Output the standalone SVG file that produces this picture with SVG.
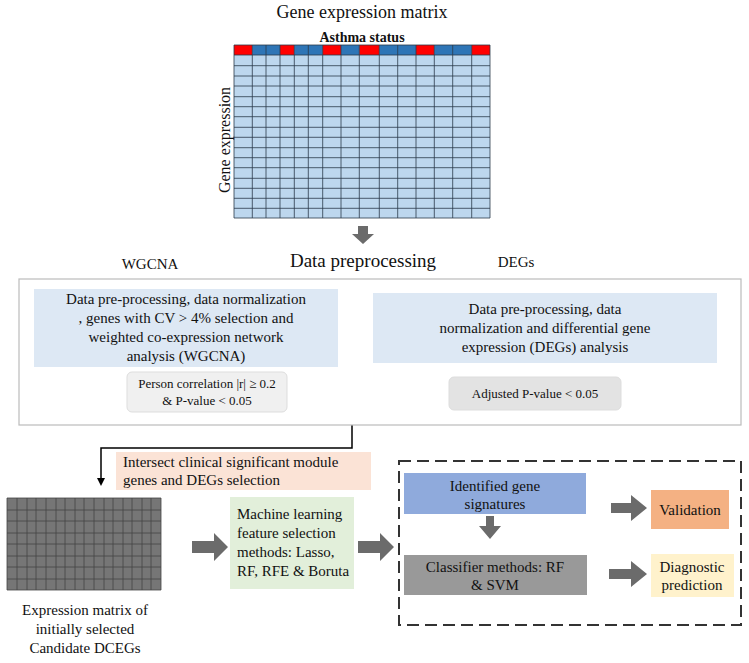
<svg xmlns="http://www.w3.org/2000/svg" width="749" height="663" viewBox="0 0 749 663" font-family="'Liberation Serif', 'Times New Roman', Tinos, 'DejaVu Serif', serif">
<defs>
<style>
text{font-family:'Liberation Serif','Times New Roman',Tinos,serif;fill:#111}
.t{font-size:15px}
.g{stroke:#2b3a4a;stroke-width:0.8;fill:none}
.ar{fill:#6b6b6b}
</style>
</defs>
<rect width="749" height="663" fill="#fff"/>
<g id="matrix">
<text x="362" y="18" text-anchor="middle" font-size="18">Gene expression matrix</text>
<text x="362" y="42" text-anchor="middle" font-size="14" font-weight="bold" fill="#333">Asthma status</text>
<rect x="234" y="55" width="256" height="163" fill="#bdd7ee"/>
<g>
<rect x="234" y="45" width="18.3" height="10" fill="#f00"/>
<rect x="252.3" y="45" width="27.7" height="10" fill="#2e75b6"/>
<rect x="280" y="45" width="14.3" height="10" fill="#f00"/>
<rect x="294.3" y="45" width="28.4" height="10" fill="#2e75b6"/>
<rect x="322.7" y="45" width="18.3" height="10" fill="#f00"/>
<rect x="341" y="45" width="18.3" height="10" fill="#2e75b6"/>
<rect x="359.3" y="45" width="20" height="10" fill="#f00"/>
<rect x="379.3" y="45" width="36.7" height="10" fill="#2e75b6"/>
<rect x="416" y="45" width="18.3" height="10" fill="#f00"/>
<rect x="434.3" y="45" width="37.4" height="10" fill="#2e75b6"/>
<rect x="471.7" y="45" width="18.3" height="10" fill="#f00"/>
</g>
<path class="g" d="M234 45H490V218H234Z M234 55H490 M252.3 45V218 M266 45V218 M280 45V218 M294.3 45V218 M308.3 45V218 M322.7 45V218 M341 45V218 M359.3 45V218 M379.3 45V218 M397.7 45V218 M416 45V218 M434.3 45V218 M452.7 45V218 M471.7 45V218 M234 65.7H490 M234 76H490 M234 86H490 M234 96.7H490 M234 106.7H490 M234 116.7H490 M234 127.3H490 M234 137.3H490 M234 147.7H490 M234 157.7H490 M234 167.7H490 M234 178.3H490 M234 188.3H490 M234 198.3H490 M234 208.3H490"/>
<text transform="translate(230,140) rotate(-90)" text-anchor="middle" font-size="16">Gene expression</text>
</g>
<g id="arrows">
<polygon class="ar" points="358,226 368,226 368,234 374,234 363,244 352,234 358,234"/>
<polygon class="ar" points="192,541 214,541 214,533 228,547 214,561 214,553 192,553"/>
<polygon class="ar" points="358,541 380,541 380,533 394,547 380,561 380,553 358,553"/>
<polygon class="ar" points="611,503 631,503 631,495 647,508 631,521 631,513 611,513"/>
<polygon class="ar" points="609,569 631,569 631,561 647,574 631,587 631,579 609,579"/>
<polygon class="ar" points="486,516 494,516 494,526 501,526 490,539 479,526 486,526"/>
<path d="M352 425V448H101V480" fill="none" stroke="#000" stroke-width="1.5"/>
<polygon points="97,478 105,478 101,486" fill="#000"/>
</g>
<g id="preproc">
<text x="363" y="267" text-anchor="middle" font-size="19">Data preprocessing</text>
<text x="150" y="269" text-anchor="middle" class="t">WGCNA</text>
<text x="516" y="267" text-anchor="middle" class="t">DEGs</text>
<rect x="19" y="279" width="722" height="146" fill="#fff" stroke="#bbb" stroke-width="1.2"/>
</g>
<g id="wgcna">
<rect x="34" y="289" width="304" height="78" fill="#dde8f4"/>
<text text-anchor="middle" class="t"><tspan x="186" y="304">Data pre-processing, data normalization</tspan><tspan x="186" y="323">, genes with CV &gt; 4% selection and</tspan><tspan x="186" y="342">weighted co-expression network</tspan><tspan x="186" y="361">analysis (WGCNA)</tspan></text>
<rect x="127" y="372" width="160" height="40" rx="5" fill="#f0f0f0" stroke="#ddd"/>
<text text-anchor="middle" font-size="13"><tspan x="207" y="388">Person correlation |r| ≥ 0.2</tspan><tspan x="207" y="405">&amp; P-value &lt; 0.05</tspan></text>
</g>
<g id="degs">
<rect x="373" y="293" width="344" height="70" fill="#dde8f4"/>
<text text-anchor="middle" class="t"><tspan x="545" y="314">Data pre-processing, data</tspan><tspan x="545" y="333">normalization and differential gene</tspan><tspan x="545" y="352">expression (DEGs) analysis</tspan></text>
<rect x="449" y="377" width="172" height="33" rx="5" fill="#e3e3e3" stroke="#ddd"/>
<text x="535" y="398" text-anchor="middle" font-size="13">Adjusted P-value &lt; 0.05</text>
</g>
<g id="intersect">
<rect x="116" y="452" width="255" height="38" fill="#fbe3d6"/>
<text class="t"><tspan x="123" y="467">Intersect  clinical significant module</tspan><tspan x="123" y="485">genes and DEGs selection</tspan></text>
</g>
<g id="expr">
<rect x="7" y="498" width="154" height="92" fill="#767676"/>
<path d="M7 498H161V590H7Z M17 498V590 M27 498V590 M36 498V590 M46 498V590 M56 498V590 M65 498V590 M75 498V590 M84 498V590 M94 498V590 M104 498V590 M113 498V590 M123 498V590 M132 498V590 M142 498V590 M151 498V590 M7 510H161 M7 521H161 M7 533H161 M7 544H161 M7 556H161 M7 567H161 M7 579H161" stroke="#444" stroke-width="0.8" fill="none"/>
<text text-anchor="middle" class="t"><tspan x="85" y="615">Expression matrix of</tspan><tspan x="85" y="634">initially selected</tspan><tspan x="85" y="653">Candidate DCEGs</tspan></text>
</g>
<g id="ml">
<rect x="230" y="497" width="124" height="92" fill="#e2efda"/>
<text class="t"><tspan x="237" y="519">Machine learning</tspan><tspan x="237" y="538">feature selection</tspan><tspan x="237" y="557">methods: Lasso,</tspan><tspan x="237" y="576">RF, RFE &amp; Boruta</tspan></text>
</g>
<g id="outer">
<rect x="399" y="461" width="342" height="164" fill="none" stroke="#333" stroke-width="2" stroke-dasharray="12,6"/>
</g>
<g id="sig">
<rect x="404" y="473" width="182" height="41" fill="#8faadc"/>
<text x="495" y="491" text-anchor="middle" class="t">Identified  gene</text>
<text x="495" y="509" text-anchor="middle" class="t">signatures</text>
</g>
<g id="valid">
<rect x="651" y="490" width="78" height="39" fill="#f4b183"/>
<text x="690" y="515" text-anchor="middle" class="t">Validation</text>
</g>
<g id="clf">
<rect x="404" y="555" width="183" height="40" fill="#999"/>
<text x="495" y="572" text-anchor="middle" class="t">Classifier methods: RF</text>
<text x="495" y="590" text-anchor="middle" class="t">&amp; SVM</text>
</g>
<g id="diag">
<rect x="651" y="554" width="83" height="43" fill="#fff2cc"/>
<text x="692" y="572" text-anchor="middle" class="t">Diagnostic</text>
<text x="692" y="590" text-anchor="middle" class="t">prediction</text>
</g>
</svg>
